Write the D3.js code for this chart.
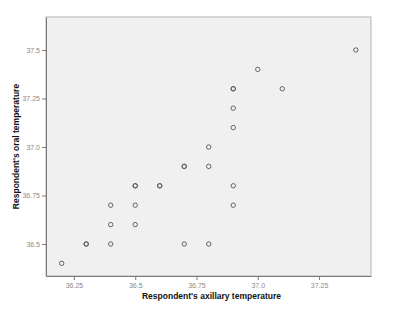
<!DOCTYPE html>
<html>
<head>
<meta charset="utf-8">
<script src="https://cdn.jsdelivr.net/npm/d3@7"></script>
<style>
  body { margin: 0; background: #fff; }
  svg { display: block; }
</style>
</head>
<body>
<script>
// axillary (x) and oral (y) readings, duplicates kept as in the picture
const axillary = [36.2, 36.3, 36.3, 36.4, 36.4, 36.4, 36.5, 36.5, 36.5, 36.5, 36.6, 36.6,
                  36.7, 36.7, 36.7, 36.8, 36.8, 36.8, 36.9, 36.9, 36.9, 36.9, 36.9, 36.9,
                  37.0, 37.1, 37.4];
const oral =     [36.4, 36.5, 36.5, 36.5, 36.6, 36.7, 36.6, 36.7, 36.8, 36.8, 36.8, 36.8,
                  36.9, 36.9, 36.5, 36.5, 36.9, 37.0, 36.7, 36.8, 37.1, 37.2, 37.3, 37.3,
                  37.4, 37.3, 37.5];
const xTicks = [36.25, 36.5, 36.75, 37.0, 37.25];
const yTicks = [36.5, 36.75, 37.0, 37.25, 37.5];

const data = axillary.map((a, i) => ({x: a, y: oral[i]}));

let width = 400, height = 321;
let margin = {top: 17, right: 29, bottom: 45, left: 46};

let svg = d3.select("body").append("svg")
    .attr("width", width)
    .attr("height", height);

let xScale = d3.scaleLinear()
    .domain([36.136, 37.462])
    .range([margin.left, width - margin.right]);

let yScale = d3.scaleLinear()
    .domain([36.335, 37.67])
    .range([height - margin.bottom, margin.top]);

// plot background
svg.append("rect")
    .attr("x", margin.left)
    .attr("y", margin.top)
    .attr("width", width - margin.left - margin.right)
    .attr("height", height - margin.top - margin.bottom)
    .attr("fill", "#f0f0f0")
    .attr("stroke", "#b4b4b4")
    .attr("stroke-width", 1);

let tickFmt = d => d === 37 ? "37.0" : String(d);

let xAxis = svg.append("g")
    .attr("transform", `translate(0,${height - margin.bottom})`)
    .call(d3.axisBottom(xScale).tickValues(xTicks).tickSizeInner(4).tickSizeOuter(0)
        .tickPadding(3).tickFormat(tickFmt));

let yAxis = svg.append("g")
    .attr("transform", `translate(${margin.left},0)`)
    .call(d3.axisLeft(yScale).tickValues(yTicks).tickSizeInner(4).tickSizeOuter(0)
        .tickPadding(2).tickFormat(tickFmt));

[xAxis, yAxis].forEach(ax => {
    ax.select(".domain").attr("stroke", "#7a7a7a");
    ax.selectAll(".tick line").attr("stroke", "#7a7a7a");
    ax.selectAll(".tick text")
        .attr("fill", "#8a8a8a")
        .style("font-family", "'Liberation Sans', Arial, sans-serif")
        .style("font-size", "7px");
});

// points
svg.append("g").selectAll("circle")
    .data(data)
    .enter()
    .append("circle")
    .attr("cx", d => xScale(d.x))
    .attr("cy", d => yScale(d.y))
    .attr("r", 2.2)
    .attr("fill", "none")
    .attr("stroke", "#555")
    .attr("stroke-width", 0.9);

// axis titles
svg.append("text")
    .attr("x", (margin.left + width - margin.right) / 2 + 3)
    .attr("y", 299)
    .style("text-anchor", "middle")
    .style("font-family", "'Liberation Sans', Arial, sans-serif")
    .style("font-size", "8.5px")
    .style("font-weight", "bold")
    .attr("fill", "#111")
    .text("Respondent's axillary temperature");

svg.append("text")
    .attr("transform", "rotate(-90)")
    .attr("x", -(margin.top + height - margin.bottom) / 2)
    .attr("y", 19)
    .style("text-anchor", "middle")
    .style("font-family", "'Liberation Sans', Arial, sans-serif")
    .style("font-size", "8.5px")
    .style("font-weight", "bold")
    .attr("fill", "#111")
    .text("Respondent's oral temperature");
</script>
</body>
</html>
